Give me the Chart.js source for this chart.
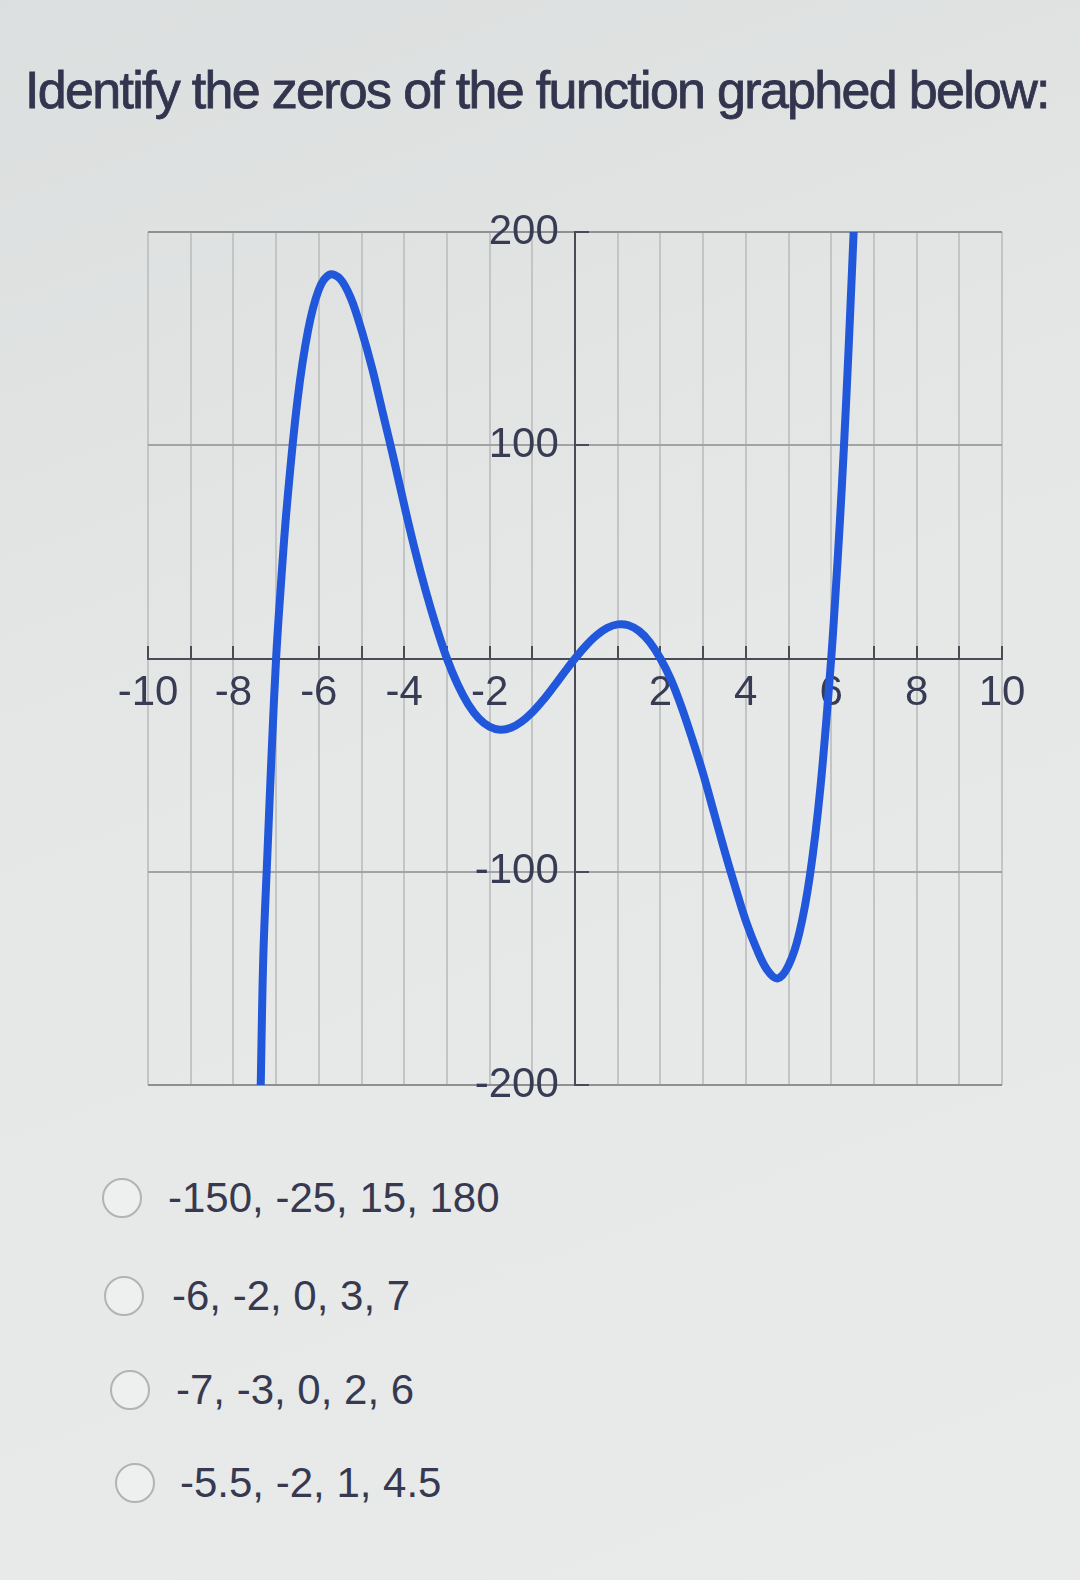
<!DOCTYPE html>
<html lang="en">
<head>
<meta charset="UTF-8">
<title>Identify the zeros</title>
<script src="https://cdn.jsdelivr.net/npm/chart.js"></script>
<style>
  html, body { margin: 0; padding: 0; }
  body {
    width: 1080px; height: 1580px; position: relative; overflow: hidden;
    background: linear-gradient(160deg, #dcdfdf 0%, #e6e7e7 45%, #e9eaea 100%);
    font-family: "Liberation Sans", Arial, sans-serif; color: #363950;
  }
  h1 {
    position: absolute; left: 25px; top: 64px; margin: 0;
    font-size: 52px; line-height: 52px; font-weight: normal;
    letter-spacing: -1.7px; white-space: nowrap; color: #33354f;
    -webkit-text-stroke: 0.8px #33354f;
  }
  #wrap { position: absolute; left: 0; top: 0; width: 1080px; height: 1140px; }
  .opt { position: absolute; font-size: 42px; line-height: 48px; white-space: nowrap; }
  .dot {
    position: absolute; width: 36px; height: 36px; border-radius: 50%;
    border: 2px solid #b2b4b4; background: #eeefef; box-sizing: content-box;
  }
</style>
</head>
<body>
<h1>Identify the zeros of the function graphed below:</h1>
<div id="wrap"><canvas id="graph"></canvas></div>
<div id="answers"></div>

<script>
  // curve
  const xValues = [-7.36, -7.3, -7.2, -7.1, -7, -6.9, -6.75, -6.5, -6.25,
    -6, -5.75, -5.5, -5.25, -5, -4.75, -4.5, -4.25, -4, -3.75,
    -3.5, -3.25, -3, -2.75, -2.5, -2.25, -2, -1.75, -1.5, -1.25,
    -1, -0.75, -0.5, -0.25, 0, 0.25, 0.5, 0.75, 1, 1.25,
    1.5, 1.75, 2, 2.25, 2.5, 2.75, 3, 3.25, 3.5, 3.75,
    4, 4.25, 4.5, 4.75, 5, 5.25, 5.5, 5.75, 6, 6.1,
    6.2, 6.3, 6.4, 6.5, 6.53];
  const yValues = [-200, -140, -90, -42, 0, 31, 71, 121, 154,
    173, 180, 178, 169, 154, 136, 115, 94, 72, 51,
    32, 15, 0, -12.1, -21.5, -28.1, -32, -33.4, -32.5, -29.6,
    -25.2, -19.6, -13.2, -6.5, 0, 5.9, 10.8, 14.3, 16, 15.6,
    12.9, 7.7, 0, -10, -23, -38, -54, -72, -90, -107,
    -123, -136, -146, -150, -144, -129, -102, -60, 0, 30,
    63, 100, 142, 188, 202];

  const xTickLabels = [-10, -8, -6, -4, -2, 2, 4, 6, 8, 10];
  const yTickLabels = [200, 100, -100, -200];

  const answers = ['-150, -25, 15, 180', '-6, -2, 0, 3, 7', '-7, -3, 0, 2, 6', '-5.5, -2, 1, 4.5'];
  // circle centre x, text left x, row centre y
  const answerPos = [[122, 168, 1198], [124, 172, 1296], [130, 176, 1390], [135, 180, 1483]];

  const box = document.getElementById('answers');
  answers.forEach((txt, i) => {
    const [cx, tx, cy] = answerPos[i];
    const dot = document.createElement('div');
    dot.className = 'dot';
    dot.style.left = (cx - 20) + 'px';
    dot.style.top = (cy - 20) + 'px';
    box.appendChild(dot);
    const t = document.createElement('div');
    t.className = 'opt';
    t.textContent = txt;
    t.style.left = tx + 'px';
    t.style.top = (cy - 24) + 'px';
    box.appendChild(t);
  });

  const labelFont = { family: 'Liberation Sans', size: 42 };
  const labelColor = '#383b54';
  const axisColor = '#4a4c55';

  const chart = new Chart(document.getElementById('graph'), {
    type: 'line',
    data: {
      datasets: [{
        data: xValues.map((x, i) => ({ x: x, y: yValues[i] })),
        borderColor: '#2157da',
        borderWidth: 8,
        pointRadius: 0,
        tension: 0.35,
        borderJoinStyle: 'round',
        fill: false
      }]
    },
    options: {
      responsive: true,
      maintainAspectRatio: false,
      animation: false,
      layout: { padding: { left: 148, right: 78, top: 232, bottom: 55 } },
      plugins: { legend: { display: false }, tooltip: { enabled: false } },
      scales: {
        x: {
          type: 'linear', min: -10, max: 10, position: { y: 0 },
          ticks: {
            stepSize: 1, autoSkip: false, maxRotation: 0, padding: 24,
            color: labelColor, font: labelFont,
            callback: v => xTickLabels.includes(v) ? String(v) : ''
          },
          grid: { color: '#c3c5c5', lineWidth: 2, tickLength: -14, tickColor: axisColor, tickWidth: 2 },
          border: { color: axisColor, width: 2 }
        },
        y: {
          type: 'linear', min: -200, max: 200, position: { x: 0 },
          ticks: { stepSize: 100, callback: () => '' },
          grid: {
            color: c => c.tick.value === 0 ? 'rgba(0,0,0,0)' : (Math.abs(c.tick.value) === 200 ? '#8f9191' : '#a2a4a4'),
            lineWidth: 2, tickLength: -15, tickColor: axisColor, tickWidth: 2
          },
          border: { color: axisColor, width: 2 }
        },
        // same range, only carries the value labels a little left of the axis
        yLabels: {
          type: 'linear', min: -200, max: 200, position: { x: -0.38 },
          ticks: {
            stepSize: 100, color: labelColor, font: labelFont,
            callback: v => yTickLabels.includes(v) ? String(v) : ''
          },
          grid: { display: false },
          border: { display: false }
        }
      }
    }
  });
</script>
</body>
</html>
